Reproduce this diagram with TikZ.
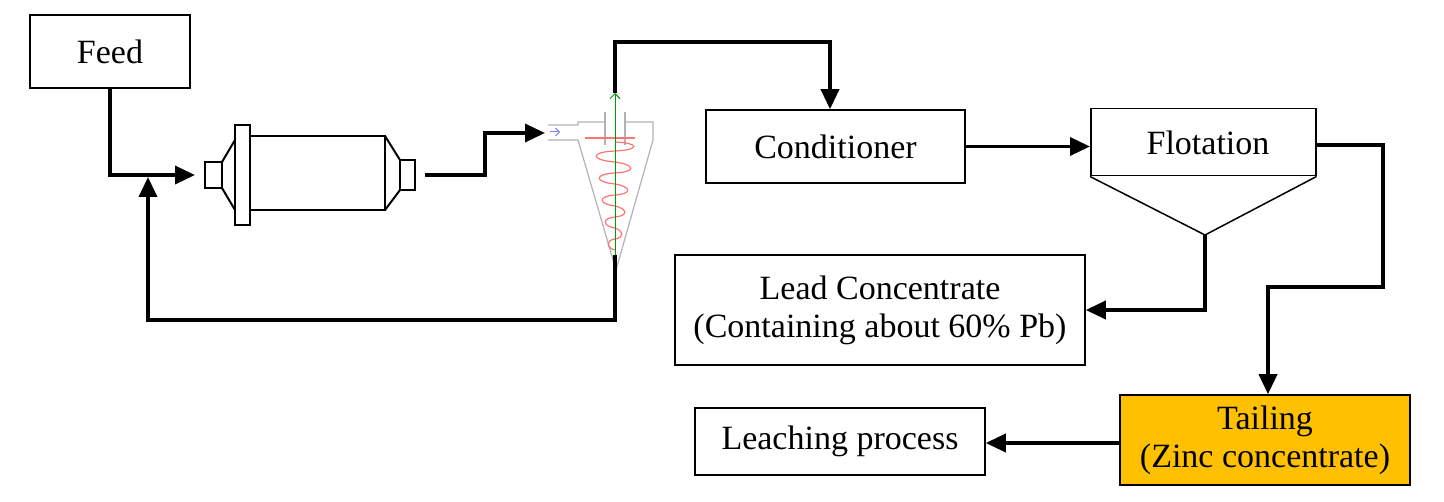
\documentclass[tikz,border=0pt]{standalone}
\usepackage{fontspec}
\setmainfont{Liberation Serif}
\usetikzlibrary{arrows.meta}
\begin{document}
\begin{tikzpicture}[x=1pt,y=-1pt,
  box/.style={draw,line width=1.5pt,inner sep=0pt,font=\fontsize{34}{38}\selectfont,align=center},
  flow/.style={line width=3.5pt,-{Triangle[length=20pt,width=18pt]}},
  mill/.style={line width=2pt},
  cyc/.style={draw=gray!60,line width=1.2pt}]
\useasboundingbox (0,0) rectangle (1444,502);
\node[box,minimum width=160pt,minimum height=73pt] (feed) at (110,51.5) {Feed};
\node[box,minimum width=259pt,minimum height=73pt] (cond) at (835.5,146.5) {Conditioner};
\node[box,minimum width=225pt,minimum height=67pt,anchor=north west] (flot) at (1090,108) {};
\node[font=\fontsize{34}{38}\selectfont] at (1208,143) {Flotation};
\draw[line width=1.5pt] (flot.south west) -- (1205,235) coordinate (apex) -- (flot.south east);
\node[box,minimum width=410pt,minimum height=110pt] (lead) at (880,310) {Lead Concentrate\\(Containing about 60\% Pb)};
\node[box,fill={rgb,255:red,255;green,192;blue,0},minimum width=290pt,minimum height=90pt] (tail) at (1265,440) {Tailing\\(Zinc concentrate)};
\node[box,minimum width=290pt,minimum height=67pt] (leach) at (840,441.5) {Leaching process};
% mill
\draw[mill] (205,162) rectangle (222,188);
\draw[mill] (222,162) -- (235,140) (222,188) -- (235,210);
\draw[mill] (235,125) rectangle (250,225);
\draw[mill] (250,136) rectangle (385,210);
\draw[mill] (385,136) -- (400,160) (385,210) -- (400,190);
\draw[mill] (400,160) rectangle (415,190);
\coordinate (millin) at (195,175);
\coordinate (millout) at (425,175);
% cyclone
\draw[cyc] (548,125) -- (578,125) -- (578,122) -- (605,122) (625,122) -- (653,122) -- (653,140) -- (616,270) -- (578,140) -- (548,140);
\draw[cyc] (605,112) -- (605,145) (625,112) -- (625,145);
\draw[blue!50,line width=1pt,-{Straight Barb[length=4pt]}] (550,132) -- (560,132);
\draw[red!55,line width=1.2pt] (585,138) -- (635,138);
\draw[red!55,line width=1.2pt] (615,142)
  \foreach \i in {0,...,4} { .. controls ({640-4*\i},{143+22*\i}) and ({640-4*\i},{150+22*\i}) .. (615,{151+22*\i}) .. controls ({590+4*\i},{152+22*\i}) and ({590+4*\i},{160+22*\i}) .. (615,{162+22*\i}) };
\draw[green!60!black,line width=1pt,-{Straight Barb[length=5pt]}] (615,262) -- (615,93);
\coordinate (cycin) at (545,133);
\coordinate (cycov) at (615,93);
\coordinate (cycun) at (615,255);
% flows
\draw[flow] (feed.south) |- (millin);
\draw[flow] (millout) -- (485,175) |- (cycin);
\draw[flow] (cycov) |- (830,42) -- (cond.north -| 830,0);
\draw[flow] (cycun) |- (148,320) -- (148,177);
\draw[flow] (cond.east) -- (flot.west |- cond.east);
\draw[flow] (apex) |- (lead.east |- 0,310);
\draw[flow] (flot.east |- 0,145) -| (1383,287) -| (tail.north -| 1268,0);
\draw[flow] (tail.west |- 0,443) -- (leach.east |- 0,443);
\end{tikzpicture}
\end{document}
